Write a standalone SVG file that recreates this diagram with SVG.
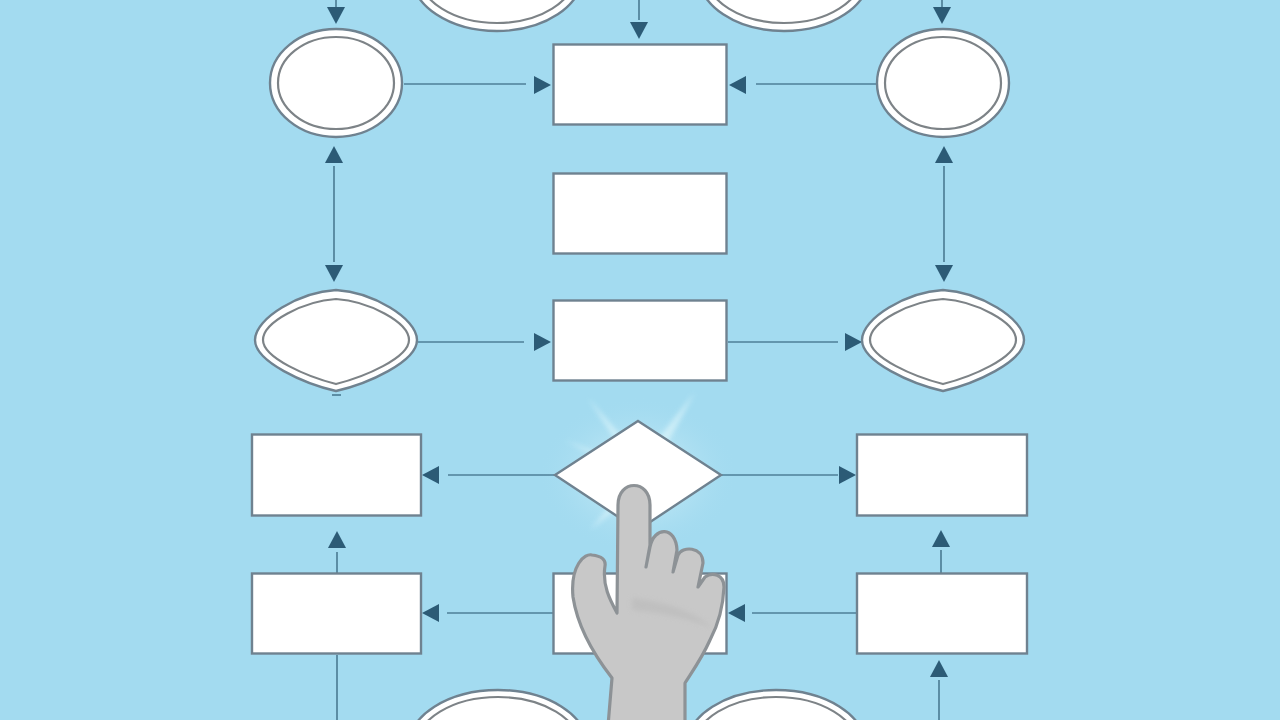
<svg xmlns="http://www.w3.org/2000/svg" width="1280" height="720" viewBox="0 0 1280 720">
<style>
.n{fill:#fff;stroke:#6f8290;stroke-width:2.400}
.i{fill:none;stroke:#7d8387;stroke-width:2.200}
.c{fill:none;stroke:#4f8098;stroke-width:1.700}
.a{fill:#2c5b76}
</style>
<defs>
<radialGradient id="g"><stop offset="0" stop-color="#e6f8fc" stop-opacity=".9"/><stop offset="1" stop-color="#a3dbf0" stop-opacity="0"/></radialGradient>
<filter id="b" x="-30%" y="-30%" width="160%" height="160%"><feGaussianBlur stdDeviation="2.500"/></filter>
<path id="t" d="M-8-9L9 0L-8 9Z"/>
</defs>
<rect width="1280" height="720" fill="#a3dbf0"/>
<g id="glow">
<ellipse cx="638" cy="475" rx="100" ry="78" fill="url(#g)"/>
<path d="M588 398L630 462L644 462ZM695 392L640 462L654 468ZM590 530L632 480L640 490ZM565 440L620 470L620 462Z" fill="#dcf5fb" opacity=".7" filter="url(#b)"/>
</g>
<g id="connectors">
<path class="c" d="M336 0V8M639 0V20M942 0V8"/>
<path class="c" d="M404 84H526M876 84H756"/>
<path class="c" d="M334 166V262M944 166V262"/>
<path class="c" d="M418 342H524M728 342H838"/>
<path class="c" d="M332 395H341"/>
<path class="c" d="M554 475H448M722 475H838"/>
<path class="c" d="M553 613H447M856 613H752"/>
<path class="c" d="M337 573V552M941 573V550M337 655V720M939 720V680"/>
<g class="a">
<use href="#t" transform="translate(336 15) rotate(90)"/>
<use href="#t" transform="translate(639 30) rotate(90)"/>
<use href="#t" transform="translate(942 15) rotate(90)"/>
<use href="#t" transform="translate(542 85)"/>
<use href="#t" transform="translate(738 85) rotate(180)"/>
<use href="#t" transform="translate(334 155) rotate(-90)"/>
<use href="#t" transform="translate(334 273) rotate(90)"/>
<use href="#t" transform="translate(944 155) rotate(-90)"/>
<use href="#t" transform="translate(944 273) rotate(90)"/>
<use href="#t" transform="translate(542 342)"/>
<use href="#t" transform="translate(853 342)"/>
<use href="#t" transform="translate(431 475) rotate(180)"/>
<use href="#t" transform="translate(847 475)"/>
<use href="#t" transform="translate(431 613) rotate(180)"/>
<use href="#t" transform="translate(737 613) rotate(180)"/>
<use href="#t" transform="translate(337 540) rotate(-90)"/>
<use href="#t" transform="translate(941 539) rotate(-90)"/>
<use href="#t" transform="translate(939 669) rotate(-90)"/>
</g>
</g>
<g id="top-oval-left"><ellipse class="n" cx="497" cy="-26" rx="86" ry="57"/><ellipse class="i" cx="497" cy="-26" rx="78" ry="49"/></g>
<g id="top-oval-right"><ellipse class="n" cx="784" cy="-26" rx="86" ry="57"/><ellipse class="i" cx="784" cy="-26" rx="78" ry="49"/></g>
<g id="oval-left"><ellipse class="n" cx="336" cy="83" rx="66" ry="54"/><ellipse class="i" cx="336" cy="83" rx="58" ry="46"/></g>
<g id="oval-right"><ellipse class="n" cx="943" cy="83" rx="66" ry="54"/><ellipse class="i" cx="943" cy="83" rx="58" ry="46"/></g>
<g id="box-top"><rect class="n" x="553.500" y="44.500" width="173" height="80"/></g>
<g id="box-mid"><rect class="n" x="553.500" y="173.500" width="173" height="80"/></g>
<g id="box-center"><rect class="n" x="553.500" y="300.500" width="173" height="80"/></g>
<g id="lens-left">
<path class="n" d="M336 290C300 292 255 318 255 340C255 362 305 384 336 391C367 384 417 362 417 340C417 318 372 292 336 290Z"/>
<path class="i" d="M336 299C304 301 263 322 263 340C263 358 308 377 336 384C364 377 409 358 409 340C409 322 368 301 336 299Z"/>
</g>
<g id="lens-right">
<path class="n" d="M943 290C907 292 862 318 862 340C862 362 912 384 943 391C974 384 1024 362 1024 340C1024 318 979 292 943 290Z"/>
<path class="i" d="M943 299C911 301 870 322 870 340C870 358 915 377 943 384C971 377 1016 358 1016 340C1016 322 975 301 943 299Z"/>
</g>
<g id="box-l1"><rect class="n" x="252" y="434.500" width="169" height="81"/></g>
<g id="box-r1"><rect class="n" x="857" y="434.500" width="170" height="81"/></g>
<g id="decision"><path class="n" d="M638 421L721 475L638 530L555 475Z"/></g>
<g id="box-l2"><rect class="n" x="252" y="573.500" width="169" height="80"/></g>
<g id="box-m2"><rect class="n" x="553.500" y="573.500" width="173" height="80"/></g>
<g id="box-r2"><rect class="n" x="857" y="573.500" width="170" height="80"/></g>
<g id="bottom-oval-left"><ellipse class="n" cx="498" cy="747" rx="90" ry="57"/><ellipse class="i" cx="498" cy="747" rx="82" ry="50"/></g>
<g id="bottom-oval-right"><ellipse class="n" cx="776" cy="747" rx="90" ry="57"/><ellipse class="i" cx="776" cy="747" rx="82" ry="50"/></g>
<g id="hand">
<path d="M618 505C618 479 650 479 650 505L650 545L646 567L650 547C654 526 676 526 677 550L673 572L678 555C682 546 703 546 703 563L698 587L705 577C712 572 724 574 724 587C723 610 718 625 710 640C702 658 692 672 685 683L685 726L608 726L612 678C598 660 578 630 573 597C570 565 585 553 592 555C602 556 606 560 605 566C602 585 610 600 617 613Z" fill="#c8c8c8" stroke="#8d9296" stroke-width="3.200" stroke-linejoin="round"/>
<path d="M632 598C655 600 695 610 712 628C690 618 655 612 632 610Z" fill="#bababa" opacity=".6" filter="url(#b)"/>
</g>
</svg>
